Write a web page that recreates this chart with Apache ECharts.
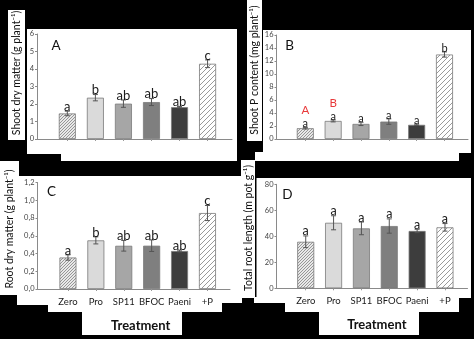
<!DOCTYPE html>
<html>
<head>
<meta charset="utf-8">
<script src="https://cdn.jsdelivr.net/npm/echarts@6/dist/echarts.min.js"></script>
<style>
html,body{margin:0;padding:0;background:#000;}
#chart{width:474px;height:339px;}
</style>
</head>
<body>
<div id="chart"></div>
<script>
// ---------------- data ----------------
const categories = ['Zero', 'Pro', 'SP11', 'BFOC', 'Paeni', '+P'];

const shootDM        = [1.46, 2.36, 2.02, 2.11, 1.82, 4.30];
const shootDMErr     = [0.13, 0.18, 0.21, 0.20, 0.04, 0.22];
const shootDMLetters = ['a', 'b', 'ab', 'ab', 'ab', 'c'];

const shootP           = [1.66, 2.78, 2.32, 2.68, 2.18, 13.0];
const shootPErr        = [0.12, 0.15, 0.25, 0.42, 0.10, 0.40];
const shootPLetters    = ['a', 'a', 'a', 'a', 'a', 'b'];
const shootPRedLetters = ['A', 'B', '', '', '', ''];

const rootDM        = [0.355, 0.548, 0.487, 0.488, 0.428, 0.856];
const rootDMErr     = [0.030, 0.040, 0.060, 0.065, 0.010, 0.085];
const rootDMLetters = ['a', 'b', 'ab', 'ab', 'ab', 'c'];

const rootLen        = [35.8, 50.4, 46.1, 47.9, 44.1, 46.9];
const rootLenErr     = [4.5, 5.4, 4.9, 5.5, 1.3, 2.9];
const rootLenLetters = ['a', 'a', 'a', 'a', 'a', 'a'];

const yTicksA = ['0', '1', '2', '3', '4', '5', '6'];
const yTicksB = ['0', '2', '4', '6', '8', '10', '12', '14', '16'];
const yTicksC = ['0,0', '0,2', '0,4', '0,6', '0,8', '1,0', '1,2'];
const yTicksD = ['0', '20', '40', '60', '80'];

const yNameA = 'Shoot dry matter (g plant\u207B\u00B9)';
const yNameB = 'Shoot P content (mg plant\u207B\u00B9)';
const yNameC = 'Root dry matter (g plant\u207B\u00B9)';
const yNameD = 'Total root length (m pot g\u207B\u00B9)';
const xName = 'Treatment';

// ---------------- styles ----------------
const FONT = 'Lato';
const INK = '#1a1a1a';
function hatch(s, fg, bg, lw) {
  const c = document.createElement('canvas');
  c.width = c.height = s;
  const g = c.getContext('2d');
  g.fillStyle = bg; g.fillRect(0, 0, s, s);
  g.strokeStyle = fg; g.lineWidth = lw;
  g.beginPath();
  g.moveTo(0, s); g.lineTo(s, 0);
  g.moveTo(-s / 2, s / 2); g.lineTo(s / 2, -s / 2);
  g.moveTo(s / 2, s * 1.5); g.lineTo(s * 1.5, s / 2);
  g.stroke();
  return c;
}
const barColors = [
  { image: hatch(3, '#8c8c8c', '#e8e8e8', 0.9), repeat: 'repeat' },
  '#dadada', '#a6a6a6', '#7f7f7f', '#3d3d3d',
  { image: hatch(5, '#9a9a9a', '#ffffff', 1), repeat: 'repeat' }
];

const panels = [
  { key: 'A', vals: shootDM, errs: shootDMErr, letters: shootDMLetters, red: null,
    max: 6, interval: 1, ticks: yTicksA, letterSize: 13, showX: false,
    outer: { left: 37, top: 34, width: 195, height: 105 }, inner: { left: 53.3, width: 168.3 } },
  { key: 'B', vals: shootP, errs: shootPErr, letters: shootPLetters, red: shootPRedLetters,
    max: 16, interval: 2, ticks: yTicksB, letterSize: 11, showX: false,
    outer: { left: 276.5, top: 35, width: 191.5, height: 104 }, inner: { left: 291.4, width: 167 } },
  { key: 'C', vals: rootDM, errs: rootDMErr, letters: rootDMLetters, red: null,
    max: 1.2, interval: 0.2, ticks: yTicksC, letterSize: 13, showX: true,
    outer: { left: 37.5, top: 182.5, width: 192.5, height: 106.5 }, inner: { left: 54, width: 167.4 } },
  { key: 'D', vals: rootLen, errs: rootLenErr, letters: rootLenLetters, red: null,
    max: 80, interval: 20, ticks: yTicksD, letterSize: 12.5, showX: true,
    outer: { left: 276.5, top: 184.3, width: 191, height: 104 }, inner: { left: 291.8, width: 167.1 } }
];

const grid = [], xAxis = [], yAxis = [], series = [];
panels.forEach((p) => {
  const gi = grid.length;
  grid.push({ left: p.outer.left, top: p.outer.top, width: p.outer.width, height: p.outer.height });
  grid.push({ left: p.inner.left, top: p.outer.top, width: p.inner.width, height: p.outer.height });
  // outer frame axes
  xAxis.push({ gridIndex: gi, type: 'value', min: 0, max: 1,
    axisLine: { show: true, lineStyle: { color: '#8a8a8a', width: 1 } },
    axisTick: { show: false }, axisLabel: { show: false }, splitLine: { show: false } });
  yAxis.push({ gridIndex: gi, type: 'value', min: 0, max: p.max, interval: p.interval,
    axisLine: { show: true, lineStyle: { color: '#8a8a8a', width: 1 } },
    axisTick: { show: true, length: 2, lineStyle: { color: '#8a8a8a' } },
    axisLabel: { margin: 3, fontSize: 7.5, color: '#444', fontFamily: FONT,
      formatter: (v) => p.ticks[Math.round(v / p.interval)] },
    splitLine: { show: false } });
  // inner category axes
  xAxis.push({ gridIndex: gi + 1, type: 'category', data: categories,
    axisLine: { show: false },
    axisTick: { show: true, alignWithLabel: true, length: 2, lineStyle: { color: '#9a9a9a' } },
    axisLabel: { show: p.showX, interval: 0, margin: 8, fontSize: 9.5, color: INK, fontFamily: FONT },
    name: p.showX ? xName : '', nameLocation: 'middle', nameGap: 30,
    nameTextStyle: { fontSize: 13, fontWeight: 'bold', color: '#111', fontFamily: FONT,
      padding: p.key === 'C' ? [0, 0, 0, 6] : [0, 0, 0, 3] } });
  yAxis.push({ gridIndex: gi + 1, type: 'value', min: 0, max: p.max, show: false });

  const xi = xAxis.length - 1, yi = yAxis.length - 1;
  series.push({
    type: 'bar', xAxisIndex: xi, yAxisIndex: yi, barWidth: 17,
    data: p.vals.map((v, i) => ({ value: v, itemStyle: { color: barColors[i] } })),
    itemStyle: { borderColor: '#7a7a7a', borderWidth: 0.8 },
    emphasis: { disabled: true }, animation: false
  });
  series.push({
    type: 'custom', xAxisIndex: xi, yAxisIndex: yi, animation: false, z: 5,
    itemStyle: { color: INK },
    emphasis: { disabled: true },
    data: p.vals.map((v, i) => [i, v, p.errs[i]]),
    renderItem: (params, api) => {
      const i = api.value(0), v = api.value(1), e = api.value(2);
      const top = api.coord([i, v + e]);
      const bot = api.coord([i, v - e]);
      const w = 2.5;
      const ls = { stroke: '#555', lineWidth: 1 };
      const children = [
        { type: 'line', shape: { x1: top[0], y1: top[1], x2: bot[0], y2: bot[1] }, style: ls },
        { type: 'line', shape: { x1: top[0] - w, y1: top[1], x2: top[0] + w, y2: top[1] }, style: ls },
        { type: 'line', shape: { x1: bot[0] - w, y1: bot[1], x2: bot[0] + w, y2: bot[1] }, style: ls },
        { type: 'text', style: { text: p.letters[params.dataIndex], x: top[0], y: top[1] + 2,
            align: 'center', verticalAlign: 'bottom', fontSize: p.letterSize, fontFamily: FONT,
            fill: INK } }
      ];
      if (p.red && p.red[params.dataIndex]) {
        children.push({ type: 'text', style: { text: p.red[params.dataIndex], x: top[0], y: top[1] - 11,
          align: 'center', verticalAlign: 'bottom', fontSize: 11.5, fontFamily: FONT,
          fill: '#e8393a' } });
      }
      return { type: 'group', children };
    }
  });
});

// white background boxes of the composite figure
const boxes = [
  [8, 10, 17, 130], [27, 29, 210, 125], [61, 153, 176, 8],
  [247, 0, 15, 141], [263, 30, 208, 123], [255, 152, 204, 9],
  [0, 161, 19, 134], [19, 176, 223, 119], [17, 294, 31, 11], [48, 294, 174, 18], [222, 294, 20, 9], [82, 311, 100, 24],
  [241, 160, 14, 138], [256.5, 178, 214.5, 120], [254, 297, 205, 6], [285, 297, 174, 15], [319, 311, 100, 24]
];
const graphicEls = boxes.map(b => ({ type: 'rect', z: -10, silent: true,
  shape: { x: b[0], y: b[1], width: b[2], height: b[3] }, style: { fill: '#fff' } }));

const panelLetters = [['A', 56, 46], ['B', 289.5, 46], ['C', 51.5, 192], ['D', 287.5, 195]];
panelLetters.forEach(t => graphicEls.push({ type: 'text', z: 10, x: t[1], y: t[2],
  style: { text: t[0], align: 'center', verticalAlign: 'middle', fontSize: 13.5, fontFamily: FONT, fill: '#111' } }));

const yNames = [[yNameA, 16.5, 73], [yNameB, 254.5, 70], [yNameC, 9.5, 229], [yNameD, 248.5, 228]];
yNames.forEach(t => graphicEls.push({ type: 'text', z: 10, x: t[1], y: t[2], rotation: Math.PI / 2,
  style: { text: t[0], align: 'center', verticalAlign: 'middle', fontSize: 10.5, fontFamily: FONT, fill: '#111' } }));

const chart = echarts.init(document.getElementById('chart'), null, { renderer: 'canvas' });
chart.setOption({
  backgroundColor: '#000',
  animation: false,
  grid, xAxis, yAxis, series,
  graphic: { elements: graphicEls }
});
</script>
</body>
</html>
